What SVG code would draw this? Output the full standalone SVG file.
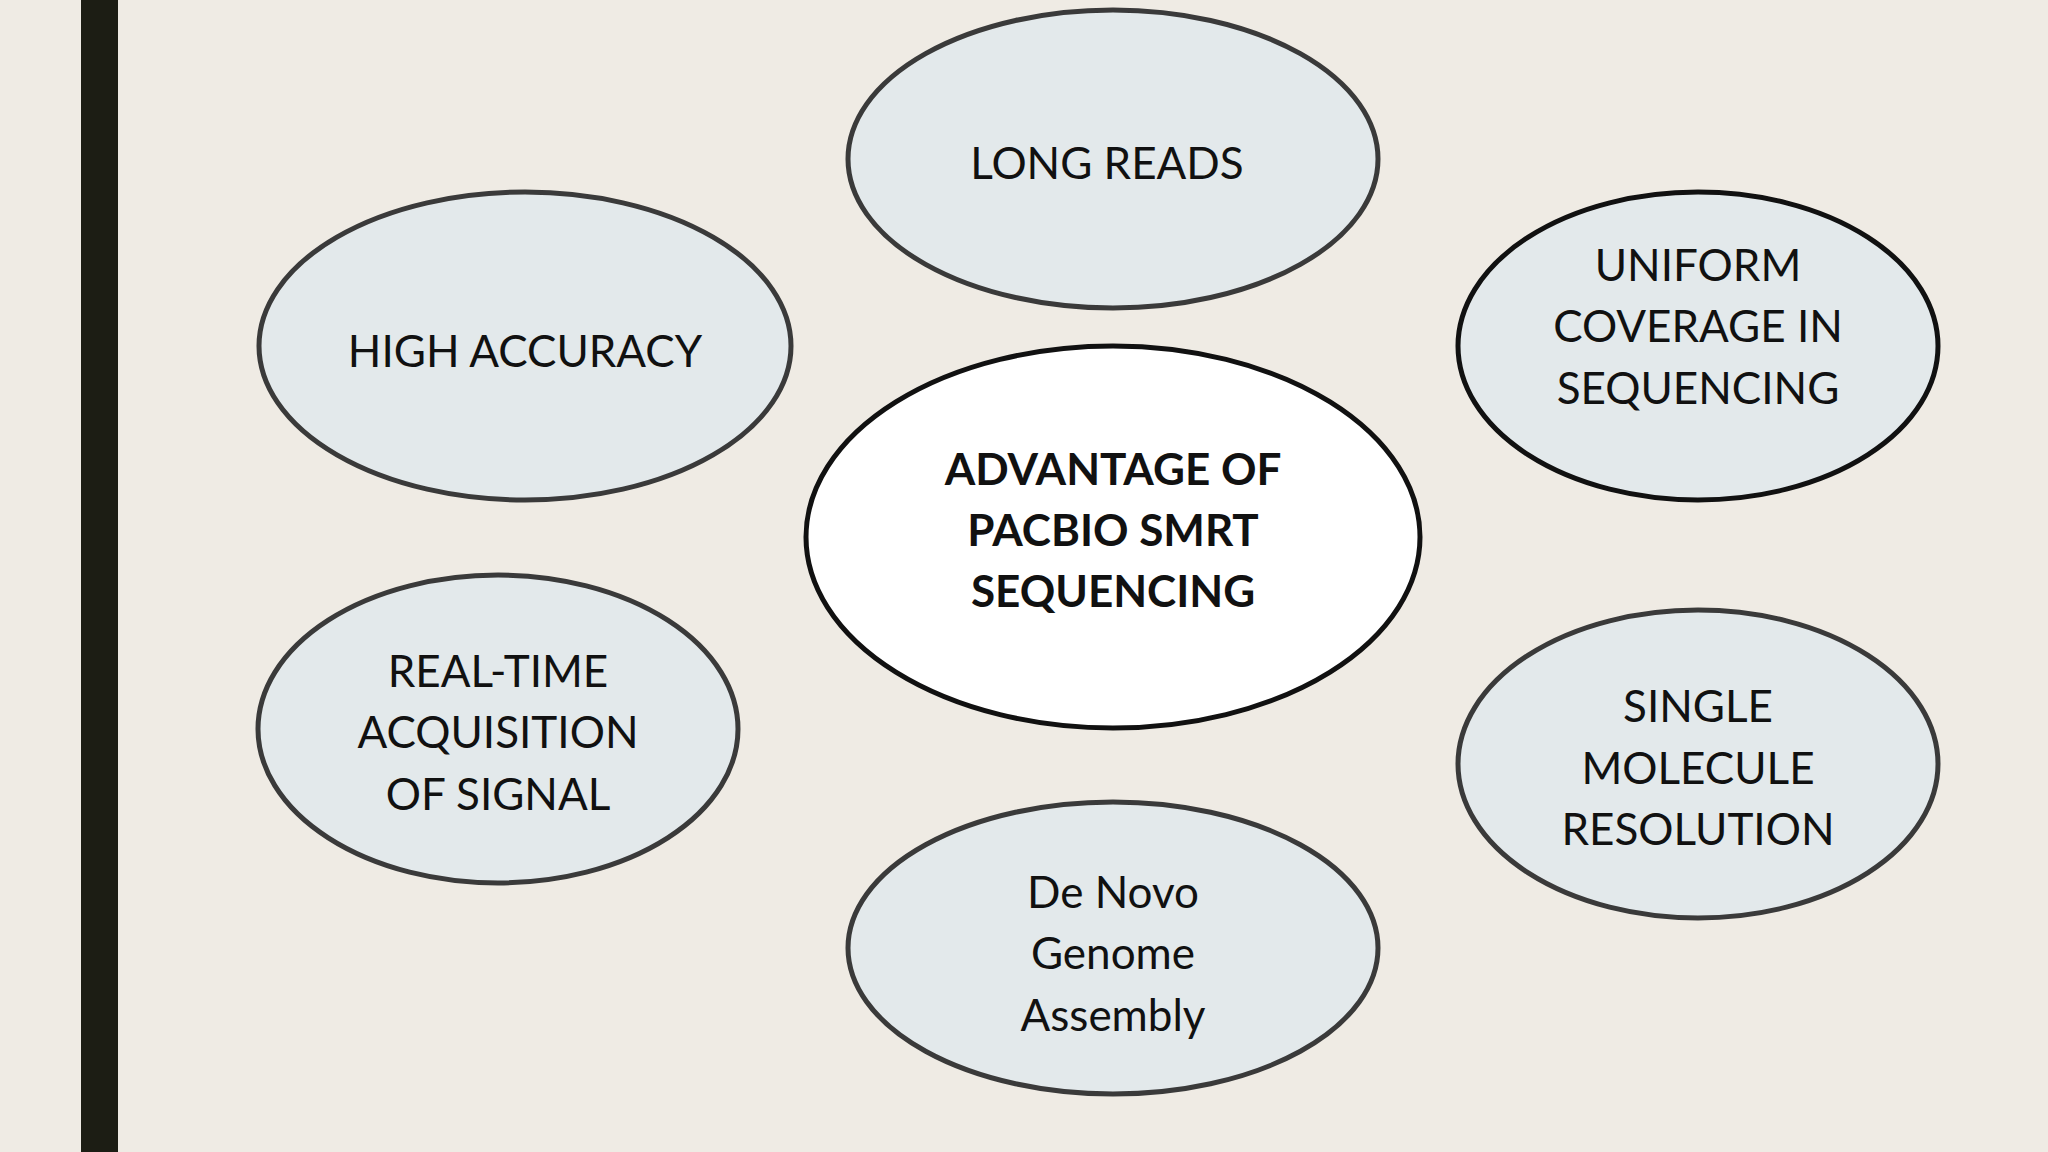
<svg xmlns="http://www.w3.org/2000/svg" width="2048" height="1152" viewBox="0 0 2048 1152">
<style>
.n{fill:#E3E9EB;stroke:#3a3a3a;stroke-width:5}
.k{stroke:#111;stroke-width:5}
text{font-family:Lato,"Liberation Sans",sans-serif;font-size:44px;fill:#111;text-anchor:middle}
.b{font-weight:bold}
</style>
<rect width="2048" height="1152" fill="#EFEBE4"/>
<rect x="81" y="0" width="37" height="1152" fill="#1C1D14"/>
<g id="connectors"/>
<g id="n-long"><ellipse class="n" cx="1113" cy="159" rx="265" ry="149"/><text x="1107" y="179">LONG READS</text></g>
<g id="n-high"><ellipse class="n" cx="525" cy="346" rx="266" ry="154"/><text x="525" y="367">HIGH ACCURACY</text></g>
<g id="n-uniform"><ellipse class="n k" cx="1698" cy="346" rx="240" ry="154"/><text x="1698" y="281">UNIFORM</text><text x="1698" y="342">COVERAGE IN</text><text x="1698" y="404">SEQUENCING</text></g>
<g id="n-center"><ellipse cx="1113" cy="537" rx="307" ry="191" fill="#fff" stroke="#111" stroke-width="5"/><text class="b" x="1113" y="485">ADVANTAGE OF</text><text class="b" x="1113" y="546">PACBIO SMRT</text><text class="b" x="1113" y="607">SEQUENCING</text></g>
<g id="n-real"><ellipse class="n" cx="498" cy="729" rx="240" ry="154"/><text x="498" y="687">REAL-TIME</text><text x="498" y="748">ACQUISITION</text><text x="498" y="810">OF SIGNAL</text></g>
<g id="n-single"><ellipse class="n" cx="1698" cy="764" rx="240" ry="154"/><text x="1698" y="722">SINGLE</text><text x="1698" y="784">MOLECULE</text><text x="1698" y="845">RESOLUTION</text></g>
<g id="n-denovo"><ellipse class="n" cx="1113" cy="948" rx="265" ry="146"/><text x="1113" y="908">De Novo</text><text x="1113" y="969">Genome</text><text x="1113" y="1031">Assembly</text></g>
</svg>
